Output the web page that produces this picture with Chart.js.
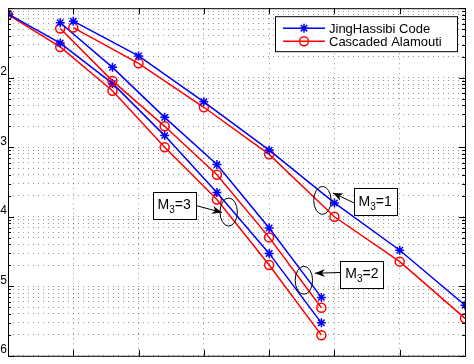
<!DOCTYPE html>
<html>
<head>
<meta charset="utf-8">
<script src="https://cdn.jsdelivr.net/npm/chart.js@4.4.1/dist/chart.umd.min.js"></script>
<style>
  html, body { margin: 0; padding: 0; background: #fff; }
  #wrap { width: 474px; height: 364px; position: relative; }
</style>
</head>
<body>
<div id="wrap"><canvas id="berChart"></canvas></div>
<script>
// SNR points for each relay setting
const snrM1 = [5, 10, 15, 20, 25, 30, 35];
const snrM2 = [4, 8, 12, 16, 20, 24];
const snrM3 = [0, 4, 8, 12, 16, 20, 24];

// BER values
const jingM1 = [6.5e-2, 2.06e-2, 4.5e-3, 9.1e-4, 1.58e-4, 3.3e-5, 5.35e-6];
const alamM1 = [5.26e-2, 1.61e-2, 3.76e-3, 7.9e-4, 1.0e-4, 2.26e-5, 3.46e-6];
const jingM2 = [6.18e-2, 1.41e-2, 2.69e-3, 5.64e-4, 6.89e-5, 6.92e-6];
const alamM2 = [5.11e-2, 9.0e-3, 2.0e-3, 4.02e-4, 5.05e-5, 4.92e-6];
const jingM3 = [8.25e-2, 3.15e-2, 8.28e-3, 1.47e-3, 2.24e-4, 2.97e-5, 2.98e-6];
const alamM3 = [8.07e-2, 2.77e-2, 6.49e-3, 1.0e-3, 1.77e-4, 2.02e-5, 1.98e-6];

const yDecades = [-6, -5, -4, -3, -2, -1];
const seriesNames = ['JingHassibi Code', 'Cascaded Alamouti'];

// ellipse callouts: centre in data units, label box offset in px
const callouts = [
  { m: '3', x: 16.9, y: 1.17e-4, dx: -54.5, dy: -7, tip: [-6.7, 0.5], tail: 0.5 },
  { m: '1', x: 24.08, y: 1.72e-4, dx: 52.8, dy: 1.2, tip: [10.5, -7.5], tail: 1.3 },
  { m: '2', x: 22.66, y: 1.22e-5, dx: 58, dy: -5.8, tip: [11, -7], tail: -2 }
];

const BLUE = '#0000ff';
const RED = '#ff0000';
const FONT = '"Liberation Sans", Arial, Helvetica, sans-serif';

function pts(xs, ys) {
  return xs.map((x, i) => ({ x: x, y: ys[i] }));
}

function series(xs, ys, isJing) {
  return {
    data: pts(xs, ys),
    borderColor: isJing ? BLUE : RED,
    backgroundColor: 'rgba(0,0,0,0)',
    borderWidth: 1.5,
    pointStyle: isJing ? 'star' : 'circle',
    pointRadius: isJing ? 4.5 : 4.5,
    pointBorderWidth: 1.5,
    pointBorderColor: isJing ? BLUE : RED,
    pointBackgroundColor: 'rgba(0,0,0,0)',
    tension: 0,
    fill: false
  };
}

function drawMarker(ctx, style, x, y, r, color) {
  ctx.save();
  ctx.strokeStyle = color;
  ctx.lineWidth = 1.5;
  ctx.beginPath();
  if (style === 'star') {
    const d = r * Math.SQRT1_2;
    ctx.moveTo(x - r, y); ctx.lineTo(x + r, y);
    ctx.moveTo(x, y - r); ctx.lineTo(x, y + r);
    ctx.moveTo(x - d, y - d); ctx.lineTo(x + d, y + d);
    ctx.moveTo(x - d, y + d); ctx.lineTo(x + d, y - d);
  } else {
    ctx.arc(x, y, r, 0, Math.PI * 2);
  }
  ctx.stroke();
  ctx.restore();
}

// box, inner ticks, legend and callouts
const decorations = {
  id: 'decorations',
  afterDatasetsDraw(chart) {
    const { ctx, chartArea: a, scales } = chart;
    ctx.save();
    ctx.strokeStyle = '#000';
    ctx.lineWidth = 1;

    // inner tick marks
    ctx.beginPath();
    scales.x.ticks.forEach(t => {
      const px = Math.round(scales.x.getPixelForValue(t.value)) + 0.5;
      ctx.moveTo(px, a.bottom); ctx.lineTo(px, a.bottom - 6);
      ctx.moveTo(px, a.top); ctx.lineTo(px, a.top + 6);
    });
    scales.y.ticks.forEach(t => {
      const e = Math.log10(t.value);
      const len = Math.abs(e - Math.round(e)) < 1e-9 ? 6 : 3;
      const py = Math.round(scales.y.getPixelForValue(t.value)) + 0.5;
      ctx.moveTo(a.left, py); ctx.lineTo(a.left + len, py);
      ctx.moveTo(a.right, py); ctx.lineTo(a.right - len, py);
    });
    ctx.stroke();

    ctx.strokeRect(a.left + 0.5, a.top + 0.5, a.right - a.left, a.bottom - a.top);

    // legend
    const lw = 182, lh = 35;
    const lx = a.right - 8 - lw, ly = a.top + 8;
    ctx.fillStyle = '#fff';
    ctx.fillRect(lx, ly, lw, lh);
    ctx.strokeRect(lx + 0.5, ly + 0.5, lw, lh);
    seriesNames.forEach((name, i) => {
      const ds = chart.data.datasets[i];
      const ry = ly + 12 + i * 13;
      ctx.save();
      ctx.strokeStyle = ds.borderColor;
      ctx.lineWidth = 1.5;
      ctx.beginPath();
      ctx.moveTo(lx + 8, ry); ctx.lineTo(lx + 50, ry);
      ctx.stroke();
      ctx.restore();
      drawMarker(ctx, ds.pointStyle, lx + 29, ry, 4.5, ds.borderColor);
      ctx.fillStyle = '#000';
      ctx.font = '13px ' + FONT;
      ctx.textAlign = 'left';
      ctx.textBaseline = 'middle';
      ctx.fillText(name, lx + 54, ry + 1);
    });

    // callouts
    callouts.forEach(c => {
      const ex = scales.x.getPixelForValue(c.x);
      const ey = scales.y.getPixelForValue(c.y);
      ctx.strokeStyle = '#000';
      ctx.lineWidth = 1;
      ctx.beginPath();
      ctx.ellipse(ex, ey, 8.7, 14, 0, 0, Math.PI * 2);
      ctx.stroke();

      const bw = 43, bh = 27;
      const bx = ex + c.dx, by = ey + c.dy;
      const left = Math.round(bx - bw / 2), top = Math.round(by - bh / 2);
      ctx.fillStyle = '#fff';
      ctx.fillRect(left, top, bw, bh);
      ctx.strokeRect(left + 0.5, top + 0.5, bw, bh);

      // M_3=n text
      ctx.fillStyle = '#000';
      ctx.textBaseline = 'alphabetic';
      ctx.textAlign = 'left';
      ctx.font = '14px ' + FONT;
      const wM = ctx.measureText('M').width;
      const wEq = ctx.measureText('=' + c.m).width;
      ctx.font = '10px ' + FONT;
      const wSub = ctx.measureText('3').width;
      let tx = bx - (wM + wSub + wEq) / 2;
      const base = by + 4;
      ctx.font = '14px ' + FONT;
      ctx.fillText('M', tx, base);
      tx += wM;
      ctx.font = '10px ' + FONT;
      ctx.fillText('3', tx, base + 4);
      tx += wSub;
      ctx.font = '14px ' + FONT;
      ctx.fillText('=' + c.m, tx, base);

      // arrow
      const sx = c.dx < 0 ? left + bw : left;
      const sy = by + c.tail;
      const txp = ex + c.tip[0], typ = ey + c.tip[1];
      ctx.beginPath();
      ctx.moveTo(sx, sy); ctx.lineTo(txp, typ);
      ctx.stroke();
      const ang = Math.atan2(typ - sy, txp - sx);
      const L = 10, W = 4;
      const bxh = txp - L * Math.cos(ang), byh = typ - L * Math.sin(ang);
      const nx = -Math.sin(ang), ny = Math.cos(ang);
      ctx.beginPath();
      ctx.moveTo(txp, typ);
      ctx.lineTo(bxh + nx * W, byh + ny * W);
      ctx.lineTo(txp - 0.7 * L * Math.cos(ang), typ - 0.7 * L * Math.sin(ang));
      ctx.lineTo(bxh - nx * W, byh - ny * W);
      ctx.closePath();
      ctx.fill();
    });

    ctx.restore();
  }
};

new Chart(document.getElementById('berChart'), {
  type: 'line',
  data: {
    datasets: [
      series(snrM1, jingM1, true),
      series(snrM1, alamM1, false),
      series(snrM2, jingM2, true),
      series(snrM2, alamM2, false),
      series(snrM3, jingM3, true),
      series(snrM3, alamM3, false)
    ]
  },
  options: {
    responsive: true,
    maintainAspectRatio: false,
    animation: false,
    layout: { padding: { top: 4, right: 9, bottom: 1, left: 0 } },
    plugins: {
      legend: { display: false },
      tooltip: { enabled: false }
    },
    scales: {
      x: {
        type: 'linear',
        min: 0,
        max: 35,
        ticks: { stepSize: 5, display: false },
        grid: { color: 'rgba(0,0,0,0.42)', lineWidth: 1, drawTicks: false },
        border: { display: false, dash: [1, 4] }
      },
      y: {
        type: 'logarithmic',
        min: 1e-6,
        max: 1e-1,
        afterBuildTicks: (scale) => {
          const t = [];
          yDecades.forEach(e => {
            for (let s = 1; s <= 9; s++) {
              t.push({ value: s * Math.pow(10, e) });
              if (e === -1) break;
            }
          });
          scale.ticks = t;
        },
        afterFit: (scale) => { scale.width = 8; },
        ticks: {
          autoSkip: false,
          padding: 1,
          labelOffset: -6,
          color: '#000',
          font: { family: FONT, size: 12 },
          callback: (v) => {
            const e = Math.log10(v);
            const r = Math.round(e);
            if (Math.abs(e - r) < 1e-9 && r <= -2) return String(-r);
            return '';
          }
        },
        grid: { color: 'rgba(0,0,0,0.42)', lineWidth: 1, drawTicks: false },
        border: { display: false, dash: [1, 4] }
      }
    }
  },
  plugins: [decorations]
});
</script>
</body>
</html>
